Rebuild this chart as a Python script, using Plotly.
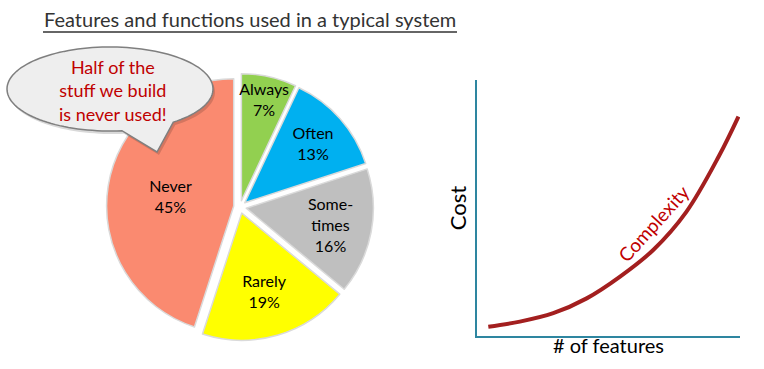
import numpy as np
import plotly.graph_objects as go

W, H = 764, 369

# ---- data ----
usage_labels = ["Always", "Often", "Sometimes", "Rarely", "Never"]
usage_text = ["Always<br>7%", "Often<br>13%", "Some-<br>times<br>16%", "Rarely<br>19%", "Never<br>45%"]
usage_pct = [7, 13, 16, 19, 45]
usage_colors = ["#92D050", "#00B0F0", "#BFBFBF", "#FFFF00", "#FA8A70"]

features = [0.43, 1.63, 2.90, 4.17, 5.44, 6.70, 7.96, 9.20, 9.94]
cost = [0.36, 0.56, 0.89, 1.47, 2.32, 3.36, 4.85, 7.03, 8.57]

FONT = "Lato"

def px(x):
    return x / W

def py(y):
    return 1 - y / H

fig = go.Figure()

fig.add_trace(go.Pie(
    labels=usage_labels,
    values=usage_pct,
    text=usage_text,
    textinfo="text",
    textposition="inside",
    insidetextorientation="horizontal",
    textfont=dict(family=FONT, size=16, color="black"),
    marker=dict(colors=usage_colors, line=dict(color="#DADADA", width=1.5)),
    sort=False,
    direction="clockwise",
    rotation=0,
    pull=[0.05, 0.05, 0.05, 0.05, 0.05],
    domain=dict(x=[px(106.5), px(373.5)], y=[py(340.5), py(73.5)]),
    showlegend=False,
    hoverinfo="label+percent",
))

fig.add_trace(go.Scatter(
    x=features, y=cost, mode="lines",
    line=dict(color="#A31F1F", width=4, shape="spline", smoothing=1.0),
    showlegend=False, hoverinfo="skip",
))

# speech bubble outline (decoration)
cx, cy, rx, ry = 110, 89, 103, 42
tip = (157, 152)
a_right = np.arctan2((123 - cy) / ry, (175 - cx) / rx)
a_left = np.arctan2((131 - cy) / ry, (122 - cx) / rx)
angs = np.linspace(a_right, a_right - (2 * np.pi - (a_left - a_right)), 120)
pts = [(cx + rx * np.cos(a), cy + ry * np.sin(a)) for a in angs]
pts.append(tip)

def path_from(points, dx=0, dy=0):
    return "M " + " L ".join(f"{px(x + dx):.5f},{py(y + dy):.5f}" for x, y in points) + " Z"

shapes = [
    dict(type="path", xref="paper", yref="paper", path=path_from(pts, 2, 3),
         fillcolor="rgba(0,0,0,0.15)", line=dict(width=0), layer="above"),
    dict(type="path", xref="paper", yref="paper", path=path_from(pts),
         fillcolor="#EEEEEE", line=dict(color="#7F7F7F", width=1.5), layer="above"),
    # title underline
    dict(type="line", xref="paper", yref="paper", x0=px(43), x1=px(457), y0=py(32), y1=py(32),
         line=dict(color="#333333", width=1.5)),
]

annotations = [
    dict(text="Features and functions used in a typical system", xref="paper", yref="paper",
         x=px(250), y=py(19), xanchor="center", yanchor="middle", showarrow=False,
         font=dict(family=FONT, size=20, color="#333333")),
    dict(text="Half of the<br>stuff we build<br>is never used!", xref="paper", yref="paper",
         x=px(113), y=py(90), xanchor="center", yanchor="middle", showarrow=False, align="center",
         font=dict(family=FONT, size=18, color="#C00000")),
    dict(text="Complexity", xref="x", yref="y", x=6.7, y=4.4, textangle=-48,
         xanchor="center", yanchor="middle",
         showarrow=False, font=dict(family=FONT, size=19, color="#C00000")),
]

fig.update_layout(
    width=W, height=H,
    margin=dict(l=0, r=0, t=0, b=0),
    paper_bgcolor="white", plot_bgcolor="white",
    shapes=shapes, annotations=annotations,
    xaxis=dict(domain=[px(477), px(740)], range=[0, 10], showgrid=False, zeroline=False,
               showticklabels=False, ticks="", showline=True, linecolor="#2E86A0", linewidth=2,
               title=dict(text="# of features", standoff=2, font=dict(family=FONT, size=20, color="black")),
               automargin=False, fixedrange=True),
    yaxis=dict(domain=[py(336), py(80)], range=[0, 10], showgrid=False, zeroline=False,
               showticklabels=False, ticks="", showline=True, linecolor="#2E86A0", linewidth=2,
               title=dict(text="Cost", standoff=2, font=dict(family=FONT, size=22, color="black")),
               automargin=False, fixedrange=True),
    uniformtext=dict(minsize=16, mode="show"),
)

fig.write_html("out.html")
